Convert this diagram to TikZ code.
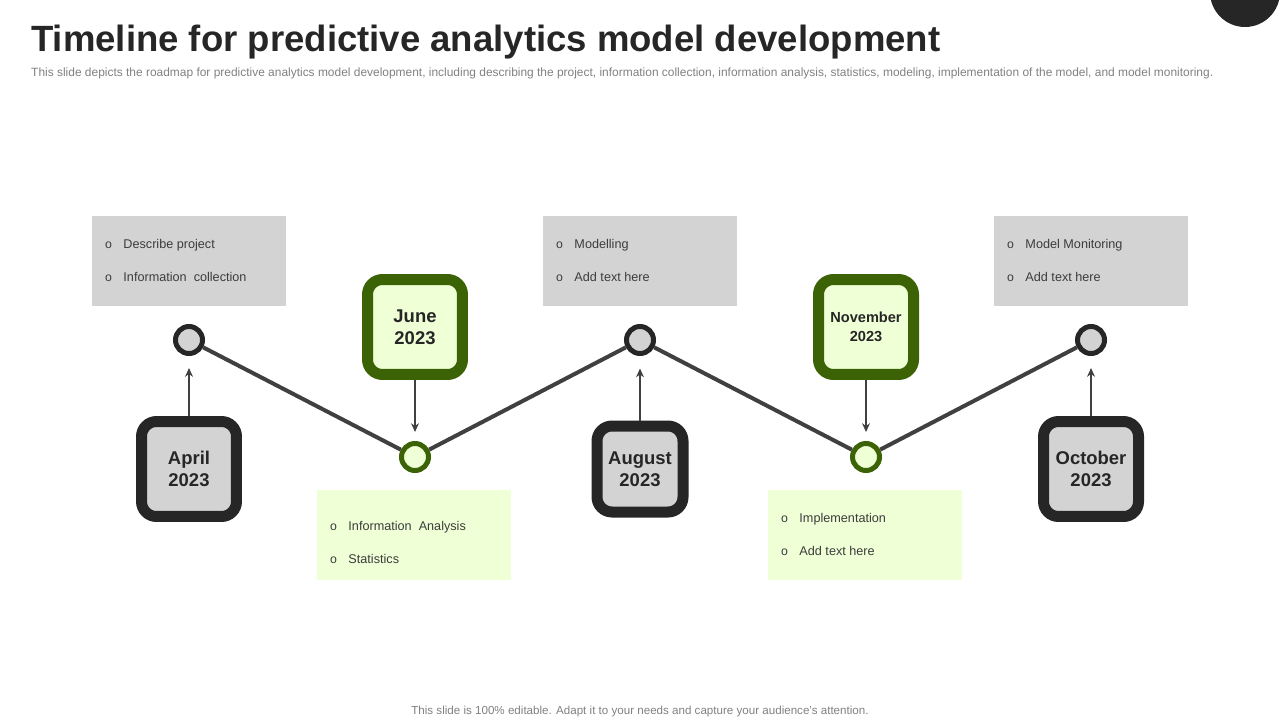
\documentclass[tikz,border=0pt]{standalone}
\usepackage{fontspec}
\setmainfont{Liberation Sans}
\usetikzlibrary{positioning,arrows.meta}
\definecolor{darkbox}{HTML}{262626}
\definecolor{leaf}{HTML}{3B6305}
\definecolor{paleleaf}{HTML}{EFFFD6}
\definecolor{greybox}{HTML}{D3D3D3}
\definecolor{wire}{HTML}{404040}
\begin{document}
\begin{tikzpicture}[x=0.02cm,y=-0.02cm,
     datebox/.style = {draw=darkbox, fill=greybox, line width=11*0.02cm, rounded corners=0.3cm,
      minimum size=1.9cm, inner sep=0pt, align=center, font=\fontsize{10.5}{12.5}\selectfont\bfseries, text=darkbox},
     greendate/.style = {datebox, draw=leaf, fill=paleleaf},
     dot/.style = {draw=darkbox, fill=greybox, circle, line width=5*0.02cm, minimum size=0.54cm, inner sep=0pt},
     greendot/.style = {dot, draw=leaf, fill=paleleaf},
     note/.style = {fill=greybox, minimum width=3.88cm, minimum height=1.8cm, anchor=north west, inner sep=0pt},
     greennote/.style = {note, fill=paleleaf},
     item/.style = {anchor=west, font=\fontsize{7.2}{9}\selectfont, text=darkbox!90},
     arrow/.style = {draw=wire, line width=0.6pt, -{Stealth[length=5pt,width=4.5pt]}},
     zig/.style = {draw=wire, line width=4*0.02cm}
    ]
    \useasboundingbox (0,0) rectangle (1280,720);
    \fill[darkbox] (1245,-8) circle (35);
    \node[anchor=west, font=\fontsize{20.8}{24}\selectfont\bfseries, text=darkbox] (title) at (25,42) {Timeline for predictive analytics model development};
    \node[anchor=west, font=\fontsize{6.8}{8}\selectfont, text=gray] (sub) at (25,73) {This slide depicts the roadmap for predictive analytics model development, including describing the project, information collection, information analysis, statistics, modeling, implementation of the model, and model monitoring.};
    \node[font=\fontsize{6.6}{8}\selectfont, text=gray] (foot) at (640,711) {This slide is 100\% editable. Adapt it to your needs and capture your audience's attention.};

    % notes
    \node[note] (n1) at (92,216) {};
    \node[note] (n3) at (543,216) {};
    \node[note] (n5) at (994,216) {};
    \node[greennote] (n2) at (317,490) {};
    \node[greennote] (n4) at (768,490) {};
    \foreach \x/\y/\a/\b in {92/245/Describe project/Information\ \ collection,
                             543/245/Modelling/Add text here,
                             994/245/Model Monitoring/Add text here,
                             317/527/Information\ \ Analysis/Statistics,
                             768/519/Implementation/Add text here} {
      \node[item] at (\x+7,\y) {{\scriptsize o}\hspace{6.5pt}\a};
      \node[item] at (\x+7,\y+32) {{\scriptsize o}\hspace{6.5pt}\b};
    }

    % timeline
    \node[dot] (p1) at (189,340) {};
    \node[greendot] (p2) at (415,457) {};
    \node[dot] (p3) at (640,340) {};
    \node[greendot] (p4) at (866,457) {};
    \node[dot] (p5) at (1091,340) {};
    \draw[zig] (p1) -- (p2) -- (p3) -- (p4) -- (p5);

    % dates
    \node[datebox] (april) at (189,469) {April\\2023};
    \node[greendate] (june) at (415,327) {June\\2023};
    \node[datebox, minimum size=1.72cm] (august) at (640,469) {August\\2023};
    \node[greendate, font=\fontsize{8.3}{10.5}\selectfont\bfseries] (november) at (866,327) {November\\2023};
    \node[datebox] (october) at (1091,469) {October\\2023};

    \draw[arrow] (april.north) -- ++(0,-48);
    \draw[arrow] (june.south) -- ++(0,52);
    \draw[arrow] (august.north) -- ++(0,-52);
    \draw[arrow] (november.south) -- ++(0,52);
    \draw[arrow] (october.north) -- ++(0,-48);
\end{tikzpicture}
\end{document}
